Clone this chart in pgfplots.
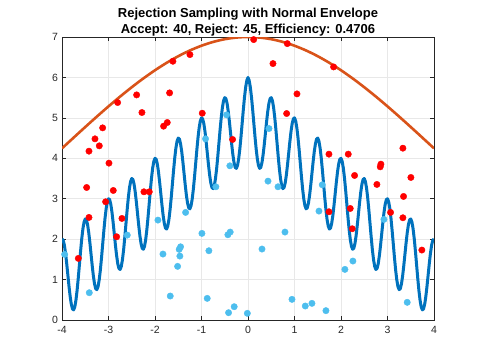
\documentclass[border=0pt]{standalone}
\usepackage{fontspec}
\setmainfont{Liberation Sans}
\usepackage{pgfplots}
\pgfplotsset{compat=1.18}
\definecolor{mblue}{rgb}{0,0.447,0.741}
\definecolor{morange}{rgb}{0.85,0.325,0.098}
\definecolor{mcyan}{rgb}{0.301,0.745,0.933}
\definecolor{mred}{rgb}{1,0,0}
\definecolor{axgray}{rgb}{0.15,0.15,0.15}
\begin{document}
\begin{tikzpicture}
\begin{axis}[
  scale only axis, width=372pt, height=283pt,
  xmin=-4, xmax=4, ymin=0, ymax=7,
  xtick={-4,-3,...,4}, ytick={0,1,...,7},
  tick align=inside, major tick length=3.7pt,
  axis line style={axgray, line width=0.6pt},
  tick style={axgray, line width=0.6pt},
  grid=major, grid style={gray!18, line width=0.5pt},
  /pgf/number format/assume math mode=true,
  tick label style={font=\fontsize{10.5}{12}\selectfont, text=axgray},
  xticklabel style={yshift=-2.5pt},
  yticklabel style={xshift=-0.5pt},
  title style={at={(0.5,1)}, anchor=south, inner sep=0pt, yshift=-5.5pt, align=center, font=\fontsize{13}{16}\selectfont\bfseries, text=black},
  title={Rejection Sampling with Normal Envelope\\Accept: 40, Reject: 45, Efficiency: 0.4706},
  clip=true,
]
% target density
\addplot[mblue, line width=3pt, line join=round] coordinates {
(-4.000,2.000) (-3.975,1.976) (-3.950,1.859) (-3.925,1.663) (-3.900,1.409) (-3.875,1.125) (-3.850,0.841) (-3.825,0.587) (-3.800,0.391) (-3.775,0.274)
(-3.750,0.250) (-3.725,0.324) (-3.700,0.491) (-3.675,0.737) (-3.650,1.041) (-3.625,1.375) (-3.600,1.709) (-3.575,2.013) (-3.550,2.259) (-3.525,2.426)
(-3.500,2.500) (-3.475,2.476) (-3.450,2.359) (-3.425,2.163) (-3.400,1.909) (-3.375,1.625) (-3.350,1.341) (-3.325,1.087) (-3.300,0.891) (-3.275,0.774)
(-3.250,0.750) (-3.225,0.824) (-3.200,0.991) (-3.175,1.237) (-3.150,1.541) (-3.125,1.875) (-3.100,2.209) (-3.075,2.513) (-3.050,2.759) (-3.025,2.926)
(-3.000,3.000) (-2.975,2.976) (-2.950,2.859) (-2.925,2.663) (-2.900,2.409) (-2.875,2.125) (-2.850,1.841) (-2.825,1.587) (-2.800,1.391) (-2.775,1.274)
(-2.750,1.250) (-2.725,1.324) (-2.700,1.491) (-2.675,1.737) (-2.650,2.041) (-2.625,2.375) (-2.600,2.709) (-2.575,3.013) (-2.550,3.259) (-2.525,3.426)
(-2.500,3.500) (-2.475,3.476) (-2.450,3.359) (-2.425,3.163) (-2.400,2.909) (-2.375,2.625) (-2.350,2.341) (-2.325,2.087) (-2.300,1.891) (-2.275,1.774)
(-2.250,1.750) (-2.225,1.824) (-2.200,1.991) (-2.175,2.237) (-2.150,2.541) (-2.125,2.875) (-2.100,3.209) (-2.075,3.513) (-2.050,3.759) (-2.025,3.926)
(-2.000,4.000) (-1.975,3.976) (-1.950,3.859) (-1.925,3.663) (-1.900,3.409) (-1.875,3.125) (-1.850,2.841) (-1.825,2.587) (-1.800,2.391) (-1.775,2.274)
(-1.750,2.250) (-1.725,2.324) (-1.700,2.491) (-1.675,2.737) (-1.650,3.041) (-1.625,3.375) (-1.600,3.709) (-1.575,4.013) (-1.550,4.259) (-1.525,4.426)
(-1.500,4.500) (-1.475,4.476) (-1.450,4.359) (-1.425,4.163) (-1.400,3.909) (-1.375,3.625) (-1.350,3.341) (-1.325,3.087) (-1.300,2.891) (-1.275,2.774)
(-1.250,2.750) (-1.225,2.824) (-1.200,2.991) (-1.175,3.237) (-1.150,3.541) (-1.125,3.875) (-1.100,4.209) (-1.075,4.513) (-1.050,4.759) (-1.025,4.926)
(-1.000,5.000) (-0.975,4.976) (-0.950,4.859) (-0.925,4.663) (-0.900,4.409) (-0.875,4.125) (-0.850,3.841) (-0.825,3.587) (-0.800,3.391) (-0.775,3.274)
(-0.750,3.250) (-0.725,3.324) (-0.700,3.491) (-0.675,3.737) (-0.650,4.041) (-0.625,4.375) (-0.600,4.709) (-0.575,5.013) (-0.550,5.259) (-0.525,5.426)
(-0.500,5.500) (-0.475,5.476) (-0.450,5.359) (-0.425,5.163) (-0.400,4.909) (-0.375,4.625) (-0.350,4.341) (-0.325,4.087) (-0.300,3.891) (-0.275,3.774)
(-0.250,3.750) (-0.225,3.824) (-0.200,3.991) (-0.175,4.237) (-0.150,4.541) (-0.125,4.875) (-0.100,5.209) (-0.075,5.513) (-0.050,5.759) (-0.025,5.926)
(0.000,6.000)
(0.025,5.926) (0.050,5.759) (0.075,5.513) (0.100,5.209) (0.125,4.875) (0.150,4.541) (0.175,4.237) (0.200,3.991) (0.225,3.824) (0.250,3.750)
(0.275,3.774) (0.300,3.891) (0.325,4.087) (0.350,4.341) (0.375,4.625) (0.400,4.909) (0.425,5.163) (0.450,5.359) (0.475,5.476) (0.500,5.500)
(0.525,5.426) (0.550,5.259) (0.575,5.013) (0.600,4.709) (0.625,4.375) (0.650,4.041) (0.675,3.737) (0.700,3.491) (0.725,3.324) (0.750,3.250)
(0.775,3.274) (0.800,3.391) (0.825,3.587) (0.850,3.841) (0.875,4.125) (0.900,4.409) (0.925,4.663) (0.950,4.859) (0.975,4.976) (1.000,5.000)
(1.025,4.926) (1.050,4.759) (1.075,4.513) (1.100,4.209) (1.125,3.875) (1.150,3.541) (1.175,3.237) (1.200,2.991) (1.225,2.824) (1.250,2.750)
(1.275,2.774) (1.300,2.891) (1.325,3.087) (1.350,3.341) (1.375,3.625) (1.400,3.909) (1.425,4.163) (1.450,4.359) (1.475,4.476) (1.500,4.500)
(1.525,4.426) (1.550,4.259) (1.575,4.013) (1.600,3.709) (1.625,3.375) (1.650,3.041) (1.675,2.737) (1.700,2.491) (1.725,2.324) (1.750,2.250)
(1.775,2.274) (1.800,2.391) (1.825,2.587) (1.850,2.841) (1.875,3.125) (1.900,3.409) (1.925,3.663) (1.950,3.859) (1.975,3.976) (2.000,4.000)
(2.025,3.926) (2.050,3.759) (2.075,3.513) (2.100,3.209) (2.125,2.875) (2.150,2.541) (2.175,2.237) (2.200,1.991) (2.225,1.824) (2.250,1.750)
(2.275,1.774) (2.300,1.891) (2.325,2.087) (2.350,2.341) (2.375,2.625) (2.400,2.909) (2.425,3.163) (2.450,3.359) (2.475,3.476) (2.500,3.500)
(2.525,3.426) (2.550,3.259) (2.575,3.013) (2.600,2.709) (2.625,2.375) (2.650,2.041) (2.675,1.737) (2.700,1.491) (2.725,1.324) (2.750,1.250)
(2.775,1.274) (2.800,1.391) (2.825,1.587) (2.850,1.841) (2.875,2.125) (2.900,2.409) (2.925,2.663) (2.950,2.859) (2.975,2.976) (3.000,3.000)
(3.025,2.926) (3.050,2.759) (3.075,2.513) (3.100,2.209) (3.125,1.875) (3.150,1.541) (3.175,1.237) (3.200,0.991) (3.225,0.824) (3.250,0.750)
(3.275,0.774) (3.300,0.891) (3.325,1.087) (3.350,1.341) (3.375,1.625) (3.400,1.909) (3.425,2.163) (3.450,2.359) (3.475,2.476) (3.500,2.500)
(3.525,2.426) (3.550,2.259) (3.575,2.013) (3.600,1.709) (3.625,1.375) (3.650,1.041) (3.675,0.737) (3.700,0.491) (3.725,0.324) (3.750,0.250)
(3.775,0.274) (3.800,0.391) (3.825,0.587) (3.850,0.841) (3.875,1.125) (3.900,1.409) (3.925,1.663) (3.950,1.859) (3.975,1.976) (4.000,2.000)
};
% normal envelope
\addplot[morange, line width=2.6pt, smooth] coordinates {
(-4.00,4.2457) (-3.75,4.5107) (-3.50,4.7736) (-3.25,5.0321) (-3.00,5.2839) (-2.75,5.5267) (-2.50,5.7580) (-2.25,5.9757)
(-2.00,6.1775) (-1.75,6.3611) (-1.50,6.5247) (-1.25,6.6664) (-1.00,6.7846) (-0.75,6.8780) (-0.50,6.9455) (-0.25,6.9863)
(0.00,7.0000) (0.25,6.9863) (0.50,6.9455) (0.75,6.8780) (1.00,6.7846) (1.25,6.6664) (1.50,6.5247) (1.75,6.3611)
(2.00,6.1775) (2.25,5.9757) (2.50,5.7580) (2.75,5.5267) (3.00,5.2839) (3.25,5.0321) (3.50,4.7736) (3.75,4.5107) (4.00,4.2457)
};
% accepted
\addplot[only marks, mark=*, mark size=3.2pt, mark options={fill=mcyan, draw=mcyan}] coordinates {
(-3.943,1.623) (-3.413,0.675) (-2.596,2.100) (-1.937,2.471) (-1.829,1.631) (-1.672,0.593)
(-1.450,1.811) (-1.480,1.747) (-1.465,1.581) (-1.514,1.327) (-1.342,2.661) (-0.991,2.142)
(-0.913,4.481) (-0.877,0.535) (-0.841,1.713) (-0.691,3.295) (-0.461,5.074) (-0.418,0.181)
(-0.297,0.329) (-0.433,2.109) (-0.383,2.175) (-0.390,3.814) (-0.014,0.165)
(0.451,4.736) (0.430,3.435) (0.645,3.295) (0.301,1.755) (0.795,2.175) (0.946,0.511)
(1.232,0.346) (1.375,0.412) (1.676,0.231) (1.597,3.344) (1.526,2.694) (2.084,1.252)
(2.256,1.458) (2.923,2.488) (3.424,0.437)
};
% rejected
\addplot[only marks, mark=*, mark size=3.2pt, mark options={fill=mred, draw=mred}] coordinates {
(-3.649,1.524) (-3.470,3.278) (-3.420,2.537) (-3.420,4.176) (-3.291,4.481) (-3.198,4.308)
(-3.126,4.753) (-3.062,2.924) (-2.990,3.880) (-2.897,3.204) (-2.825,2.059) (-2.711,2.512)
(-2.804,5.379) (-2.395,5.568) (-2.281,5.132) (-2.238,3.171) (-2.123,3.171) (-1.815,4.794)
(-1.736,4.885) (-1.686,5.618) (-1.615,6.400) (-1.249,6.565) (-0.984,5.115) (-0.332,4.465)
(0.122,6.936) (0.845,6.837) (0.537,6.343) (1.841,6.260) (1.053,5.593) (0.831,5.107)
(1.741,4.102) (2.156,4.102) (2.292,3.575) (2.858,3.855) (2.844,3.789) (2.772,3.353)
(3.331,4.250) (3.503,3.526) (3.345,3.056) (1.741,2.677) (2.199,2.759) (2.242,2.257)
(3.066,2.661) (3.331,2.529) (3.739,1.730)
};
\end{axis}
\pgfresetboundingbox
\path (-62pt,-40pt) rectangle (418pt,320pt);
\end{tikzpicture}
\end{document}
